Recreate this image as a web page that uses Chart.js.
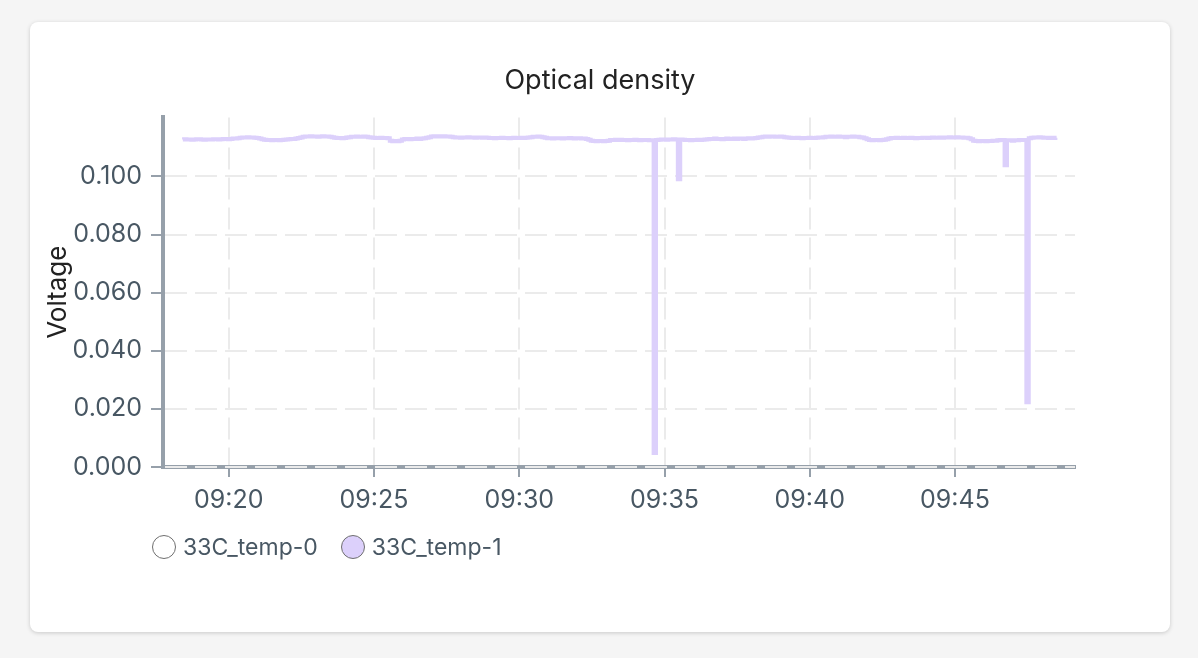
<!DOCTYPE html>
<html>
<head>
<meta charset="utf-8">
<script src="https://cdn.jsdelivr.net/npm/chart.js@4.4.1/dist/chart.umd.min.js"></script>
<style>
  html, body { margin: 0; padding: 0; background: #f5f5f5; width: 1198px; height: 658px; overflow: hidden; font-family: Inter, "Noto Sans", sans-serif; }
  #card { position: absolute; left: 30px; top: 22px; width: 1140px; height: 610px; background: #fff; border-radius: 8px; box-shadow: 0 1px 4px rgba(0,0,0,0.18); }
  #chartBox { position: absolute; left: 0; top: 0; width: 1140px; height: 610px; }
  #legend { position: absolute; left: 122px; top: 513px; display: flex; align-items: center; font-family: Inter, sans-serif; font-size: 23px; color: #485763; }
  .item { display: flex; align-items: center; margin-right: 23px; height: 24px; }
  .dot { width: 24px; height: 24px; box-sizing: border-box; border-radius: 50%; border: 1px solid #6e6e6e; margin-right: 7px; }
</style>
</head>
<body>
<div id="card">
  <div id="chartBox"><canvas id="c" width="1140" height="610"></canvas></div>
  <div id="legend"></div>
</div>
<script>
// ---- data ----
const chartTitle = 'Optical density';
const yAxisTitle = 'Voltage';
const seriesLabels = ['33C_temp-0', '33C_temp-1'];
const seriesColors = ['#ffffff', '#dcd0fb'];
const startTime = '09:18:25';
const sampleSeconds = 5;
const xAxisRange = ['09:17:44', '09:49:08'];
const yAxisRange = [0, 0.1203];
const yTickStep = 0.02;
const xTickStepMinutes = 5;
const voltage0 = [];
const voltage1 = [
  0.1127,0.1128,0.1127,0.1127,0.1126,0.1127,0.1128,0.1128,0.1127,0.1126,0.1127,0.1127,
  0.1127,0.1128,0.1128,0.1127,0.1128,0.1129,0.1129,0.1128,0.1129,0.1130,0.1130,0.1131,
  0.1133,0.1134,0.1134,0.1135,0.1134,0.1134,0.1133,0.1132,0.1130,0.1128,0.1126,0.1125,
  0.1125,0.1124,0.1125,0.1125,0.1124,0.1125,0.1126,0.1127,0.1128,0.1129,0.1129,0.1130,
  0.1132,0.1134,0.1136,0.1137,0.1137,0.1138,0.1137,0.1137,0.1136,0.1137,0.1138,0.1137,
  0.1137,0.1136,0.1135,0.1133,0.1132,0.1132,0.1131,0.1132,0.1134,0.1135,0.1136,0.1136,
  0.1137,0.1136,0.1136,0.1137,0.1136,0.1135,0.1134,0.1133,0.1132,0.1132,0.1133,0.1132,
  0.1132,0.1131,0.1123,0.1121,0.1122,0.1121,0.1123,0.1127,0.1129,0.1129,0.1128,0.1129,
  0.1129,0.1130,0.1129,0.1130,0.1131,0.1133,0.1135,0.1137,0.1138,0.1137,0.1138,0.1137,
  0.1138,0.1137,0.1137,0.1136,0.1135,0.1134,0.1134,0.1133,0.1134,0.1134,0.1135,0.1134,
  0.1134,0.1133,0.1134,0.1134,0.1133,0.1134,0.1133,0.1132,0.1132,0.1131,0.1132,0.1132,
  0.1133,0.1132,0.1132,0.1131,0.1132,0.1133,0.1132,0.1132,0.1133,0.1132,0.1133,0.1134,
  0.1135,0.1136,0.1136,0.1137,0.1136,0.1135,0.1133,0.1131,0.1131,0.1130,0.1131,0.1131,
  0.1131,0.1130,0.1131,0.1131,0.1132,0.1131,0.1130,0.1131,0.1131,0.1130,0.1130,0.1129,
  0.1126,0.1123,0.1122,0.1121,0.1122,0.1122,0.1121,0.1122,0.1123,0.1125,0.1125,0.1126,
  0.1125,0.1126,0.1125,0.1125,0.1124,0.1125,0.1125,0.1126,0.1125,0.1124,0.1125,0.1125,
  0.1125,0.1124,0.1124,0.0048,0.1125,0.1126,0.1127,0.1127,0.1126,0.1127,0.1127,0.1128,
  0.1127,0.0990,0.1127,0.1126,0.1125,0.1125,0.1124,0.1125,0.1125,0.1126,0.1125,0.1126,
  0.1127,0.1128,0.1129,0.1129,0.1130,0.1129,0.1129,0.1128,0.1129,0.1130,0.1129,0.1129,
  0.1130,0.1129,0.1130,0.1130,0.1129,0.1130,0.1131,0.1130,0.1131,0.1132,0.1134,0.1135,
  0.1136,0.1137,0.1136,0.1137,0.1137,0.1136,0.1136,0.1137,0.1136,0.1135,0.1134,0.1133,
  0.1132,0.1132,0.1133,0.1132,0.1131,0.1132,0.1132,0.1133,0.1132,0.1132,0.1133,0.1134,
  0.1134,0.1135,0.1136,0.1136,0.1137,0.1136,0.1136,0.1137,0.1136,0.1136,0.1135,0.1136,
  0.1136,0.1137,0.1136,0.1136,0.1135,0.1134,0.1131,0.1128,0.1125,0.1124,0.1125,0.1125,
  0.1124,0.1125,0.1126,0.1128,0.1130,0.1132,0.1132,0.1133,0.1132,0.1132,0.1133,0.1132,
  0.1132,0.1133,0.1132,0.1131,0.1132,0.1132,0.1133,0.1133,0.1132,0.1133,0.1134,0.1133,
  0.1133,0.1134,0.1133,0.1134,0.1134,0.1135,0.1134,0.1134,0.1135,0.1134,0.1134,0.1133,
  0.1133,0.1131,0.1128,0.1123,0.1122,0.1121,0.1122,0.1122,0.1121,0.1122,0.1122,0.1123,
  0.1123,0.1124,0.1125,0.1125,0.1038,0.1124,0.1124,0.1123,0.1124,0.1124,0.1125,0.1125,
  0.1125,0.0223,0.1131,0.1133,0.1134,0.1134,0.1135,0.1134,0.1133,0.1133,0.1132,0.1133,
  0.1132,0.1133
];

// ---- helpers (x values are minutes since midnight) ----
function toMin(s) { const p = s.split(':').map(Number); return p[0]*60 + p[1] + (p[2] || 0)/60; }
function fmtHM(min) { const m = Math.round(min); const h = Math.floor(m/60), mm = m % 60; return String(h).padStart(2,'0') + ':' + String(mm).padStart(2,'0'); }
function toPoints(vals) { const t0 = toMin(startTime); return vals.map((v, i) => ({ x: t0 + i*sampleSeconds/60, y: v })); }
function isStep(v, step) { const q = v/step; return Math.abs(q - Math.round(q)) < 1e-6; }

const AXIS_GRAY = '#96a0aa';
const GRID = '#ebebeb';
const LABEL = '#485763';
const FONT = 'Inter, "Noto Sans", sans-serif';

const chart = new Chart(document.getElementById('c'), {
  type: 'line',
  data: {
    datasets: [
      { label: seriesLabels[0], data: toPoints(voltage0), borderColor: seriesColors[0], backgroundColor: seriesColors[0], pointRadius: 0, borderWidth: 4, stepped: 'middle' },
      { label: seriesLabels[1], data: toPoints(voltage1), borderColor: seriesColors[1], backgroundColor: seriesColors[1], pointRadius: 0, borderWidth: 4, stepped: 'middle' }
    ]
  },
  options: {
    responsive: false,
    animation: false,
    layout: { padding: 0 },
    plugins: {
      legend: { display: false },
      tooltip: { enabled: false },
      title: { display: true, text: chartTitle, color: '#222222', font: { family: FONT, size: 27, weight: '400' }, padding: { top: 43, bottom: 20 } }
    },
    scales: {
      x: {
        type: 'linear',
        min: toMin(xAxisRange[0]),
        max: toMin(xAxisRange[1]),
        afterBuildTicks: s => { s.ticks = s.ticks.filter(t => isStep(t.value, xTickStepMinutes)); },
        afterFit: s => { s.height = 165; },
        ticks: { stepSize: xTickStepMinutes, includeBounds: false, autoSkip: false, maxRotation: 0, color: LABEL, padding: 8, font: { family: FONT, size: 25 }, callback: v => fmtHM(v) },
        grid: { color: GRID, lineWidth: 2, tickColor: AXIS_GRAY, tickLength: 10 },
        border: { display: true, color: AXIS_GRAY, width: 4, dash: [22, 8] }
      },
      y: {
        min: yAxisRange[0],
        max: yAxisRange[1],
        afterBuildTicks: s => { s.ticks = s.ticks.filter(t => t.value <= 0.1 + 1e-9); },
        afterFit: s => { s.width = 133; },
        ticks: { stepSize: yTickStep, color: LABEL, padding: 9, font: { family: FONT, size: 25 }, callback: v => Number(v).toFixed(3) },
        grid: { color: GRID, lineWidth: 2, tickColor: AXIS_GRAY, tickLength: 12, z: 0 },
        border: { display: true, color: AXIS_GRAY, width: 4, dash: [22, 8] },
        title: { display: true, text: yAxisTitle, color: '#222222', font: { family: FONT, size: 26 }, padding: { top: 13, bottom: 0 } }
      },
      // empty right-hand gutter so the plot ends where the reference's does
      gutter: {
        type: 'linear', position: 'right', display: true,
        ticks: { display: false }, grid: { display: false }, border: { display: false },
        afterFit: s => { s.width = 95; }
      }
    }
  }
});

// HTML legend built from the chart's datasets
const legendEl = document.getElementById('legend');
chart.data.datasets.forEach(ds => {
  const item = document.createElement('div'); item.className = 'item';
  const dot = document.createElement('span'); dot.className = 'dot'; dot.style.background = ds.backgroundColor;
  const txt = document.createElement('span'); txt.textContent = ds.label;
  item.appendChild(dot); item.appendChild(txt); legendEl.appendChild(item);
});
</script>
</body>
</html>
